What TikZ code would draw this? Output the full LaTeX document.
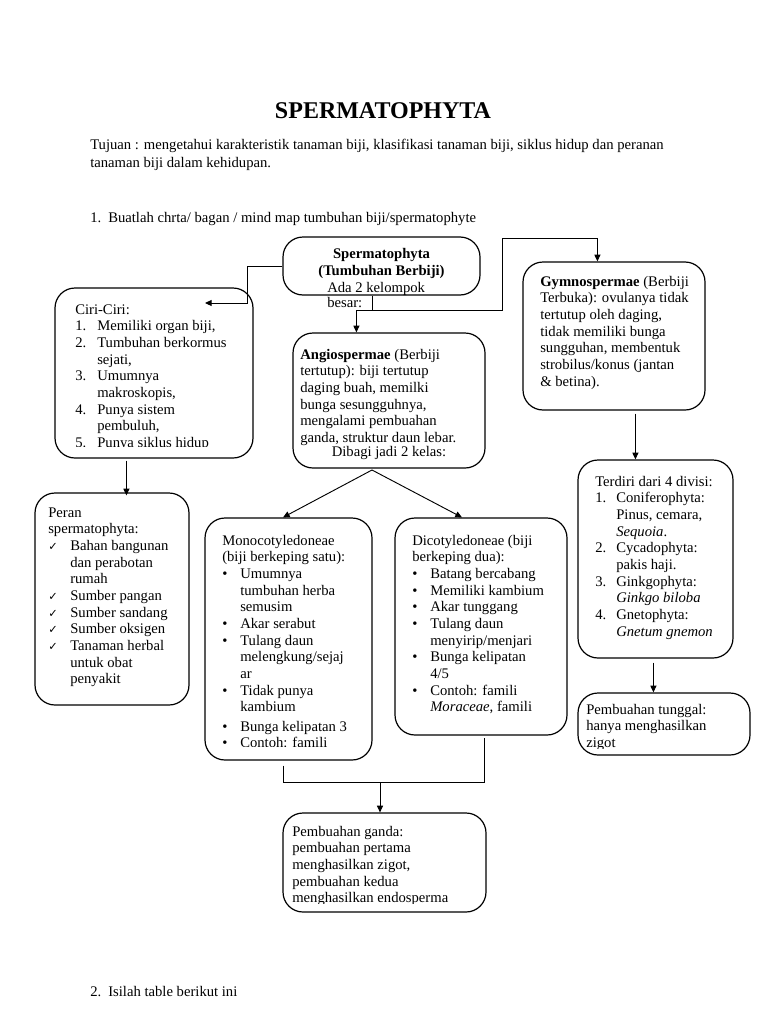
\documentclass[tikz,border=0pt]{standalone}
\usepackage{fontspec}
\setmainfont{Liberation Serif}
\newfontfamily\symfont{DejaVu Sans}
\usetikzlibrary{arrows.meta,calc}
\newcommand{\hang}[2]{\makebox[#1][l]{#2}}
\newcommand{\ind}[1]{\hspace*{#1}}
\newcommand{\chk}{\hang{16.5pt}{{\symfont\fontsize{8.5}{8.5}\selectfont ✓}}}
\newcommand{\bul}{\hang{13.5pt}{\textbullet}}
\begin{document}
\begin{tikzpicture}[x=0.75pt,y=-0.75pt,
  box/.style={draw, line width=0.9pt, rounded corners=15pt, inner sep=0pt},
  txt/.style={anchor=base west, inner sep=0pt, font=\fontsize{11}{12.5}\selectfont},
  ctxt/.style={anchor=base, inner sep=0pt, font=\fontsize{11}{12.5}\selectfont},
  arr/.style={-{Triangle[length=5pt,width=4.5pt]}, line width=0.7pt},
  ln/.style={line width=0.7pt}]
\useasboundingbox[fill=white] (0,0) rectangle (768,1024);

% ---------- header ----------
\node[anchor=base, inner sep=0pt, font=\fontsize{18}{20}\selectfont\bfseries] (title) at (383,118) {SPERMATOPHYTA};
\node[txt] (tujuan) at (90,149) {\begin{tabular}[t]{@{}l@{}}Tujuan : mengetahui karakteristik tanaman biji, klasifikasi tanaman biji, siklus hidup dan peranan\\[1.5pt] tanaman biji dalam kehidupan.\end{tabular}};
\node[txt] (task1) at (90,222) {\hang{13.5pt}{1.}Buatlah chrta/ bagan / mind map tumbuhan biji/spermatophyte};
\node[txt] (task2) at (90,996) {\hang{13.5pt}{2.}Isilah table berikut ini};

% ---------- boxes ----------
\node[box, minimum width=147.75pt, minimum height=43.5pt] (sperm) at (381.5,266) {};
\node[box, minimum width=148.5pt, minimum height=127.5pt] (ciri) at (154,373) {};
\node[box, minimum width=144pt, minimum height=101.25pt] (angio) at (389,400.5) {};
\node[box, minimum width=136.5pt, minimum height=111pt] (gymno) at (614,336) {};
\node[box, minimum width=116.25pt, minimum height=148.5pt] (terdiri) at (655.5,559) {};
\node[box, minimum width=129pt, minimum height=46.5pt] (tunggal) at (664,724) {};
\node[box, minimum width=115.5pt, minimum height=159pt] (peran) at (112,599) {};
\node[box, minimum width=125.25pt, minimum height=181.5pt] (mono) at (288.5,639) {};
\node[box, minimum width=129pt, minimum height=162.75pt] (dico) at (481,626.5) {};
\node[box, minimum width=152.25pt, minimum height=74.25pt] (ganda) at (384.5,862.5) {};

% ---------- box texts ----------
\node[ctxt, font=\fontsize{11}{12.5}\selectfont\bfseries] (spt1) at (381.5,258) {Spermatophyta};
\node[ctxt, font=\fontsize{11}{12.5}\selectfont\bfseries] (spt2) at (381.5,275) {(Tumbuhan Berbiji)};
\node[txt] (spt3) at (327,292) {\begin{tabular}[t]{@{}l@{}}Ada 2 kelompok\\[-1pt] besar:\end{tabular}};

\begin{scope}
\clip (55,288) rectangle (253,446);
\node[txt] (ciritxt) at (75,314) {\begin{tabular}[t]{@{}l@{}}
Ciri-Ciri:\\
\hang{16.5pt}{1.}Memiliki organ biji,\\
\hang{16.5pt}{2.}Tumbuhan berkormus\\
\ind{16.5pt}sejati,\\
\hang{16.5pt}{3.}Umumnya\\
\ind{16.5pt}makroskopis,\\
\hang{16.5pt}{4.}Punya sistem\\
\ind{16.5pt}pembuluh,\\
\hang{16.5pt}{5.}Punya siklus hidup
\end{tabular}};
\end{scope}

\node[txt] (angiotxt) at (300,359) {\begin{tabular}[t]{@{}l@{}}
\textbf{Angiospermae} (Berbiji\\
tertutup): biji tertutup\\
daging buah, memilki\\
bunga sesungguhnya,\\
mengalami pembuahan\\
ganda, struktur daun lebar.
\end{tabular}};
\node[ctxt] (angiotxt2) at (389,456) {Dibagi jadi 2 kelas:};

\node[txt] (gymnotxt) at (540,286) {\begin{tabular}[t]{@{}l@{}}
\textbf{Gymnospermae} (Berbiji\\
Terbuka): ovulanya tidak\\
tertutup oleh daging,\\
tidak memiliki bunga\\
sungguhan, membentuk\\
strobilus/konus (jantan\\
\& betina).
\end{tabular}};

\node[txt] (terdiritxt) at (595,486) {\begin{tabular}[t]{@{}l@{}}
Terdiri dari 4 divisi:\\
\hang{15.75pt}{1.}Coniferophyta:\\
\ind{15.75pt}Pinus, cemara,\\
\ind{15.75pt}\textit{Sequoia}.\\
\hang{15.75pt}{2.}Cycadophyta:\\
\ind{15.75pt}pakis haji.\\
\hang{15.75pt}{3.}Ginkgophyta:\\
\ind{15.75pt}\textit{Ginkgo biloba}\\
\hang{15.75pt}{4.}Gnetophyta:\\
\ind{15.75pt}\textit{Gnetum gnemon}
\end{tabular}};

\begin{scope}
\clip (578,693) rectangle (750,748.5);
\node[txt] (tunggaltxt) at (586,714) {\begin{tabular}[t]{@{}l@{}}
Pembuahan tunggal:\\
hanya menghasilkan\\
zigot
\end{tabular}};
\end{scope}

\node[txt] (perantxt) at (48,517) {\begin{tabular}[t]{@{}l@{}}
Peran\\
spermatophyta:\\
\chk Bahan bangunan\\
\ind{16.5pt}dan perabotan\\
\ind{16.5pt}rumah\\
\chk Sumber pangan\\
\chk Sumber sandang\\
\chk Sumber oksigen\\
\chk Tanaman herbal\\
\ind{16.5pt}untuk obat\\
\ind{16.5pt}penyakit
\end{tabular}};

\begin{scope}
\clip (205,518) rectangle (372,746);
\node[txt] (monotxt) at (222,545) {\begin{tabular}[t]{@{}l@{}}
Monocotyledoneae\\
(biji berkeping satu):\\
\bul Umumnya\\
\ind{13.5pt}tumbuhan herba\\
\ind{13.5pt}semusim\\
\bul Akar serabut\\
\bul Tulang daun\\
\ind{13.5pt}melengkung/sejaj\\
\ind{13.5pt}ar\\
\bul Tidak punya\\
\ind{13.5pt}kambium\\[2pt]
\bul Bunga kelipatan 3\\
\bul Contoh: famili
\end{tabular}};
\end{scope}

\node[txt] (dicotxt) at (412,545) {\begin{tabular}[t]{@{}l@{}}
Dicotyledoneae (biji\\
berkeping dua):\\
\bul Batang bercabang\\
\bul Memiliki kambium\\
\bul Akar tunggang\\
\bul Tulang daun\\
\ind{13.5pt}menyirip/menjari\\
\bul Bunga kelipatan\\
\ind{13.5pt}4/5\\
\bul Contoh: famili\\
\ind{13.5pt}\textit{Moraceae}, famili
\end{tabular}};

\begin{scope}
\clip (283,813) rectangle (486,903);
\node[txt] (gandatxt) at (292,836) {\begin{tabular}[t]{@{}l@{}}
Pembuahan ganda:\\
pembuahan pertama\\
menghasilkan zigot,\\
pembuahan kedua\\
menghasilkan endosperma
\end{tabular}};
\end{scope}

% ---------- connectors ----------
\coordinate (ciriin) at (205,303);
\draw[arr] (sperm.west) -- ++(-35,0) |- (ciriin);
\coordinate (j1) at (372,310);
\draw[ln] ($(sperm.south)+(-9.5,0)$) -- (j1);
\draw[arr] (j1) -| ($(angio.north west)+(64,0)$);
\draw[arr] (j1) -| (502,238) -| ($(gymno.north west)+(75,0)$);

\coordinate (apex) at (372,470);
\draw[arr] (apex) -- ($(mono.north)+(-5.5,0)$);
\draw[arr] (apex) -- ($(dico.north)+(-19,0)$);

\draw[arr] ($(gymno.south west)+(113,3)$) -- ($(terdiri.north west)+(58,0)$);
\draw[arr] ($(terdiri.south west)+(76,4)$) -- ($(tunggal.north west)+(76,0)$);
\draw[arr] ($(ciri.south west)+(72,2)$) -- ($(peran.north west)+(92,3)$);

\coordinate (jb) at (380,782);
\draw[ln] ($(mono.south west)+(79,5)$) |- ($(dico.south west)+(90,47)$) -- ($(dico.south west)+(90,2)$);
\draw[arr] (jb) -- (ganda.north -| jb);
\end{tikzpicture}
\end{document}
